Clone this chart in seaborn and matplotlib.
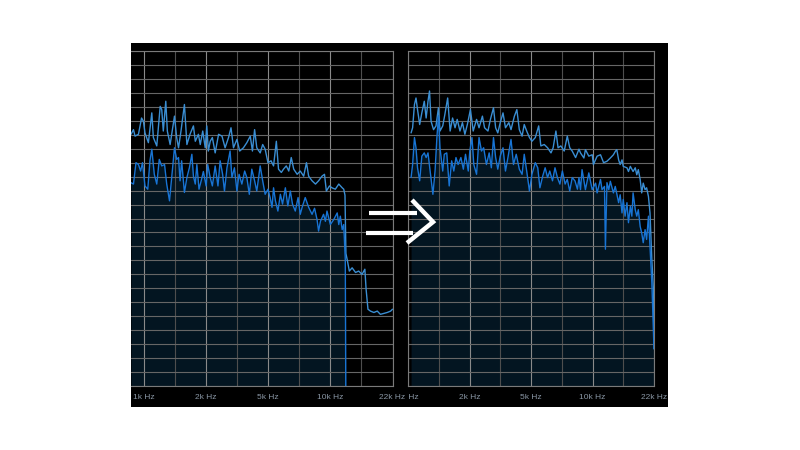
import numpy as np
import pandas as pd
import matplotlib
matplotlib.use('Agg')
import matplotlib.pyplot as plt
import seaborn as sns
from matplotlib.lines import Line2D
from matplotlib.patches import Rectangle
from matplotlib.transforms import Bbox, TransformedBbox

# Spectrum traces, x in grid steps (1k Hz = 0 ... 22k Hz = 8), y in dB

# Before (left panel)
left_top_pos = [-0.42, -0.34, -0.29, -0.18, -0.08, -0.02, 0.03, 0.14, 0.25, 0.30, 0.41, 0.52, 0.57, 0.62,
                0.70, 0.75, 0.84, 0.98, 1.05, 1.11, 1.19, 1.30, 1.38, 1.48, 1.59, 1.65, 1.75, 1.81, 1.89,
                1.97, 2.02, 2.07, 2.13, 2.20, 2.29, 2.40, 2.51, 2.61, 2.72, 2.80, 2.88, 2.99, 3.08, 3.20,
                3.31, 3.42, 3.49, 3.56, 3.63, 3.74, 3.82, 3.90, 3.99, 4.09, 4.17, 4.26, 4.33, 4.42, 4.49,
                4.58, 4.66, 4.74, 4.82, 4.93, 5.03, 5.14, 5.23, 5.30, 5.41, 5.52, 5.62, 5.73, 5.81, 5.87,
                5.97, 6.05, 6.16, 6.27, 6.38, 6.43, 6.47, 6.50, 6.54, 6.61, 6.70, 6.81, 6.91, 7.02, 7.11,
                7.15, 7.21, 7.29, 7.40, 7.51, 7.61, 7.72, 7.83, 7.94, 8.0]
left_top_db = [-17.9, -16.9, -18.3, -17.9, -14.4, -15.1, -17.6, -19.7, -13.3, -18.6, -20.4, -11.9, -12.6, -17.2,
               -10.8, -17.2, -20.1, -14.0, -18.6, -20.8, -17.2, -11.5, -20.1, -17.9, -16.1, -19.4, -17.9, -20.1,
               -17.2, -20.8, -16.1, -21.5, -19.4, -18.6, -21.9, -17.9, -18.3, -20.8, -18.6, -16.5, -20.8, -19.0,
               -21.5, -20.8, -19.7, -18.3, -21.5, -16.9, -20.8, -21.9, -20.1, -21.1, -24.0, -23.6, -24.7, -19.4,
               -25.4, -26.1, -25.4, -24.7, -25.8, -22.9, -25.4, -26.5, -25.8, -26.9, -24.0, -26.9, -27.9, -28.6,
               -27.9, -26.9, -26.5, -30.1, -29.0, -29.4, -29.7, -28.6, -29.4, -29.7, -31.0, -43.5, -44.8, -47.3,
               -46.6, -47.6, -47.3, -48.0, -46.9, -51.2, -55.5, -55.9, -56.2, -55.9, -56.6, -56.4, -56.2, -55.9,
               -55.5]

left_low_pos = [-0.42, -0.34, -0.26, -0.18, -0.11, -0.05, 0.03, 0.12, 0.19, 0.25, 0.33, 0.41, 0.49, 0.57,
                0.66, 0.73, 0.82, 0.89, 0.98, 1.05, 1.11, 1.16, 1.21, 1.30, 1.38, 1.46, 1.54, 1.59, 1.65,
                1.70, 1.77, 1.84, 1.91, 2.00, 2.05, 2.13, 2.20, 2.29, 2.38, 2.45, 2.53, 2.59, 2.67, 2.77,
                2.83, 2.91, 2.99, 3.06, 3.15, 3.24, 3.31, 3.39, 3.47, 3.56, 3.63, 3.74, 3.82, 3.90, 3.99,
                4.06, 4.12, 4.17, 4.23, 4.31, 4.39, 4.46, 4.55, 4.63, 4.71, 4.78, 4.87, 4.96, 5.03, 5.09,
                5.19, 5.30, 5.41, 5.49, 5.57, 5.62, 5.68, 5.78, 5.84, 5.89, 6.00, 6.11, 6.22, 6.27, 6.32,
                6.38, 6.43, 6.48, 6.50, 8.0]
left_low_db = [-28.3, -28.6, -24.0, -24.4, -25.8, -24.0, -29.0, -29.7, -23.6, -21.1, -26.5, -28.6, -23.3, -24.7,
               -24.4, -28.6, -32.2, -27.2, -20.8, -23.3, -22.9, -27.9, -23.6, -30.4, -27.2, -25.1, -22.2, -26.9,
               -28.6, -24.4, -29.7, -27.9, -25.9, -29.0, -24.4, -27.2, -29.0, -24.7, -29.0, -23.6, -26.5, -30.1,
               -25.1, -21.5, -27.2, -25.1, -30.1, -26.5, -28.6, -25.8, -27.2, -30.8, -25.4, -27.9, -30.1, -24.7,
               -27.9, -30.8, -29.7, -31.5, -33.6, -29.4, -32.2, -34.4, -30.8, -32.9, -29.4, -33.3, -30.1, -32.9,
               -34.4, -31.5, -35.1, -33.6, -31.5, -33.6, -35.1, -33.8, -36.2, -38.7, -36.6, -35.1, -36.6, -34.4,
               -37.3, -36.2, -34.8, -37.3, -35.5, -38.4, -37.3, -44.8, -80.0, -80.0]

# After (right panel)
right_top_pos = [0.10, 0.15, 0.21, 0.26, 0.31, 0.38, 0.45, 0.53, 0.59, 0.65, 0.70, 0.75, 0.83, 0.91, 0.99,
                 1.04, 1.13, 1.20, 1.29, 1.37, 1.45, 1.53, 1.60, 1.69, 1.77, 1.85, 1.93, 2.03, 2.12, 2.23,
                 2.31, 2.42, 2.49, 2.60, 2.68, 2.78, 2.85, 2.92, 3.00, 3.09, 3.17, 3.28, 3.35, 3.46, 3.54,
                 3.62, 3.71, 3.78, 3.86, 3.95, 4.03, 4.14, 4.25, 4.32, 4.43, 4.54, 4.65, 4.72, 4.81, 4.88,
                 4.97, 5.08, 5.18, 5.26, 5.34, 5.45, 5.56, 5.61, 5.72, 5.77, 5.88, 5.99, 6.03, 6.15, 6.26,
                 6.36, 6.47, 6.58, 6.68, 6.74, 6.79, 6.85, 6.90, 6.96, 7.00, 7.12, 7.17, 7.23, 7.32, 7.39,
                 7.44, 7.49, 7.55, 7.60, 7.65, 7.71, 7.76, 7.82, 7.87, 7.93, 7.98, 8.0]
right_top_db = [-17.6, -16.5, -11.5, -10.1, -12.6, -15.8, -13.3, -10.8, -14.4, -10.8, -8.6, -15.1, -16.9, -16.1,
                -12.2, -17.2, -16.1, -13.6, -10.1, -17.2, -14.4, -16.5, -14.7, -17.2, -15.4, -17.9, -15.8, -12.6,
                -17.2, -14.7, -16.5, -14.0, -16.5, -17.2, -14.7, -12.2, -16.5, -17.6, -15.4, -13.3, -16.5, -15.4,
                -16.9, -14.0, -12.6, -16.9, -18.3, -15.8, -17.2, -18.6, -19.4, -18.6, -16.1, -20.4, -20.1, -20.8,
                -21.9, -20.8, -17.2, -20.8, -20.4, -21.5, -18.3, -20.8, -21.5, -22.9, -21.1, -21.9, -23.0, -21.2,
                -22.6, -22.3, -24.4, -22.6, -22.3, -24.0, -23.7, -23.0, -22.3, -21.6, -21.2, -23.4, -24.4, -23.4,
                -24.8, -25.1, -25.9, -24.8, -25.9, -25.1, -26.6, -25.5, -27.6, -30.5, -28.4, -29.8, -29.4, -31.3,
                -34.8, -44.8, -51.2, -64.0]

right_low_pos = [0.10, 0.15, 0.21, 0.26, 0.31, 0.38, 0.45, 0.53, 0.59, 0.65, 0.72, 0.81, 0.88, 0.94, 0.99,
                 1.04, 1.13, 1.18, 1.26, 1.34, 1.42, 1.49, 1.56, 1.63, 1.72, 1.80, 1.87, 1.96, 2.01, 2.08,
                 2.14, 2.23, 2.31, 2.39, 2.46, 2.55, 2.64, 2.71, 2.78, 2.85, 2.92, 3.00, 3.09, 3.17, 3.25,
                 3.35, 3.43, 3.52, 3.62, 3.71, 3.78, 3.86, 3.95, 4.03, 4.14, 4.22, 4.29, 4.38, 4.46, 4.54,
                 4.61, 4.70, 4.78, 4.86, 4.94, 5.02, 5.11, 5.18, 5.26, 5.34, 5.43, 5.51, 5.56, 5.61, 5.66,
                 5.77, 5.88, 5.99, 6.10, 6.15, 6.26, 6.31, 6.39, 6.42, 6.47, 6.53, 6.58, 6.68, 6.74, 6.85,
                 6.90, 6.96, 7.00, 7.06, 7.12, 7.17, 7.23, 7.28, 7.32, 7.39, 7.44, 7.49, 7.55, 7.60, 7.65,
                 7.71, 7.76, 7.82, 7.87, 7.93, 8.0]
right_low_db = [-27.2, -24.4, -18.6, -20.8, -25.1, -27.9, -22.6, -21.9, -22.9, -21.9, -25.8, -30.8, -25.8, -18.6,
                -14.0, -20.8, -25.8, -22.2, -21.9, -29.0, -23.6, -25.8, -22.9, -24.4, -22.9, -25.4, -22.2, -25.8,
                -21.5, -18.6, -24.4, -26.5, -18.6, -21.5, -20.8, -24.4, -21.9, -25.1, -18.6, -22.9, -25.4, -22.6,
                -20.8, -25.8, -22.9, -19.0, -24.4, -22.2, -25.4, -26.5, -22.2, -25.8, -30.1, -26.5, -24.0, -25.1,
                -29.4, -26.9, -25.1, -27.2, -25.8, -27.9, -25.1, -27.2, -28.6, -25.8, -28.6, -27.6, -30.1, -27.2,
                -27.9, -29.7, -27.2, -29.8, -25.5, -29.8, -26.2, -29.8, -28.4, -30.5, -27.6, -29.8, -29.1, -42.6,
                -28.3, -29.8, -28.0, -30.5, -29.1, -32.6, -30.9, -34.8, -31.9, -35.5, -32.6, -36.9, -33.4, -35.5,
                -30.5, -34.1, -35.5, -34.1, -37.7, -39.1, -41.2, -38.4, -40.5, -35.5, -42.0, -49.8, -64.0]

tick_pos = [0, 2, 4, 6, 8]
tick_labels = ['1k Hz', '2k Hz', '5k Hz', '10k Hz', '22k Hz']
minor_pos = [1, 3, 5, 7]
db_lines = list(range(-72, 1, 3))

TOP_COLOR = '#3a8ed3'
LOW_COLOR = '#1874d4'
FILL_COLOR = '#031521'

sns.set_style('dark', rc={'axes.facecolor': 'black'})
plt.rcParams['font.family'] = ['Liberation Sans', 'DejaVu Sans']

fig = plt.figure(figsize=(8, 4.5), dpi=100)
fig.patch.set_facecolor('white')

# black frame behind both panels
fig.add_artist(Rectangle((131 / 800, 43 / 450), 537 / 800, 364 / 450,
                         transform=fig.transFigure, facecolor='black', edgecolor='none', zorder=0))

ax_l = fig.add_axes([131 / 800, 64 / 450, 261.5 / 800, 335 / 450])
ax_r = fig.add_axes([408 / 800, 64 / 450, 246 / 800, 335 / 450])


def draw_panel(ax, top_pos, top_db, low_pos, low_db, xmin):
    ax.set_facecolor('black')
    # filled area under the lower trace
    ax.fill_between(low_pos, low_db, -90, color=FILL_COLOR, lw=0, zorder=0.4)

    df = pd.concat([
        pd.DataFrame({'pos': top_pos, 'db': top_db, 'trace': 'top'}),
        pd.DataFrame({'pos': low_pos, 'db': low_db, 'trace': 'low'}),
    ])
    sns.lineplot(data=df, x='pos', y='db', hue='trace',
                 palette={'top': TOP_COLOR, 'low': LOW_COLOR},
                 estimator=None, sort=False, lw=1.0, legend=False, ax=ax, zorder=3)

    ax.set_xlim(xmin, 8)
    ax.set_ylim(-72, 0)
    ax.set_xticks(tick_pos, tick_labels)
    ax.set_xticks(minor_pos, minor=True)
    ax.set_yticks(db_lines)
    ax.set_axisbelow(True)
    ax.grid(which='major', axis='x', color='#8a8a8a', lw=0.8)
    ax.grid(which='minor', axis='x', color='#4e4e4e', lw=0.8)
    ax.grid(which='major', axis='y', color='#666666', lw=0.8)
    ax.tick_params(axis='x', which='both', length=0, labelsize=6, labelcolor='#8996a4', pad=6)
    ax.tick_params(axis='y', which='both', length=0, left=False, labelleft=False)
    ax.set_xlabel('')
    ax.set_ylabel('')
    for s in ax.spines.values():
        s.set_color('#7a7a7a')
        s.set_linewidth(0.8)


draw_panel(ax_l, left_top_pos, left_top_db, left_low_pos, left_low_db, -0.42)
draw_panel(ax_r, right_top_pos, right_top_db, right_low_pos, right_low_db, 0.065)
ax_l.spines['left'].set_visible(False)

# the right panel cuts its first label at the panel edge
clip = TransformedBbox(Bbox([[0, -1], [1.2, 1]]), ax_r.transAxes)
for t in ax_r.xaxis.get_major_ticks():
    t.label1.set_clip_box(clip)
    t.label1.set_clip_on(True)

# white double arrow between the panels
arrow_kw = dict(transform=fig.transFigure, color='white', zorder=10)
fig.add_artist(Line2D([369 / 800, 417 / 800], [237 / 450, 237 / 450], lw=3.0,
                      solid_capstyle='butt', **arrow_kw))
fig.add_artist(Line2D([366 / 800, 413 / 800], [217 / 450, 217 / 450], lw=3.0,
                      solid_capstyle='butt', **arrow_kw))
fig.add_artist(Line2D([412 / 800, 433 / 800, 407 / 800], [250 / 450, 228 / 450, 207 / 450], lw=3.2,
                      solid_capstyle='butt', solid_joinstyle='miter', **arrow_kw))

fig.savefig('out.png', dpi=100, facecolor='white')
